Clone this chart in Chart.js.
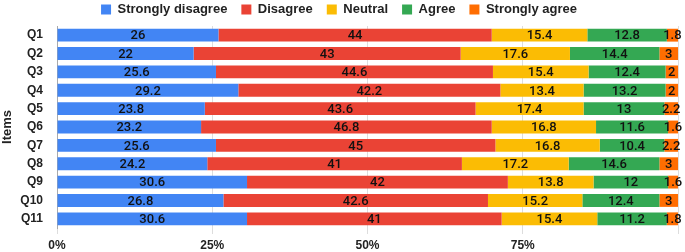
<!DOCTYPE html>
<html><head><meta charset="utf-8">
<script src="https://cdn.jsdelivr.net/npm/chart.js@4/dist/chart.umd.min.js"></script>
<style>html,body{margin:0;padding:0;background:#fff}#w{width:685px;height:252px}</style>
</head><body><div id="w"><canvas id="c"></canvas></div>
<script>
const categories = ["Q1","Q2","Q3","Q4","Q5","Q6","Q7","Q8","Q9","Q10","Q11"];
const stronglyDisagree = [26,22,25.6,29.2,23.8,23.2,25.6,24.2,30.6,26.8,30.6];
const disagree = [44,43,44.6,42.2,43.6,46.8,45,41,42,42.6,41];
const neutral = [15.4,17.6,15.4,13.4,17.4,16.8,16.8,17.2,13.8,15.2,15.4];
const agree = [12.8,14.4,12.4,13.2,13,11.6,10.4,14.6,12,12.4,11.2];
const stronglyAgree = [1.8,3,2,2,2.2,1.6,2.2,3,1.6,3,1.8];
const xTicks = [0,25,50,75,100];
const seriesNames = ["Strongly disagree","Disagree","Neutral","Agree","Strongly agree"];
const colors = ["#4285F4","#EA4335","#FBBC04","#34A853","#FF6D01"];
const seriesData = [stronglyDisagree, disagree, neutral, agree, stronglyAgree];

const labelPlugin = {
  id: 'barLabels',
  afterDatasetsDraw(chart) {
    const ctx = chart.ctx;
    ctx.save();
    ctx.font = '500 13px Roboto';
    ctx.fillStyle = '#111';
    ctx.textAlign = 'center';
    ctx.textBaseline = 'middle';
    chart.data.datasets.forEach((ds, i) => {
      const meta = chart.getDatasetMeta(i);
      meta.data.forEach((bar, j) => {
        const x = (bar.x + bar.base) / 2;
        ctx.fillText(String(ds.data[j]), x, bar.y + 1);
      });
    });
    ctx.restore();
  }
};

new Chart(document.getElementById('c'), {
  type: 'bar',
  data: {
    labels: categories,
    datasets: seriesNames.map((n, i) => ({
      label: n, data: seriesData[i], backgroundColor: colors[i],
      borderWidth: 0, barPercentage: 0.7, categoryPercentage: 1
    }))
  },
  options: {
    indexAxis: 'y',
    responsive: true, maintainAspectRatio: false, animation: false,
    layout: { padding: { left: 0, right: 7, top: -11, bottom: 0 } },
    plugins: {
      legend: {
        position: 'top',
        labels: { usePointStyle: true, pointStyle: 'rect', boxWidth: 10, boxHeight: 10, padding: 14,
          color: '#222', font: { family: 'Liberation Sans', size: 13, weight: 'bold' } }
      },
      tooltip: { enabled: false }
    },
    scales: {
      x: {
        stacked: true, min: 0, max: 100,
        afterBuildTicks(s) { s.ticks = xTicks.map(v => ({ value: v })); },
        afterFit(s) { s.height = 24; },
        ticks: { callback: v => v === 100 ? '' : v + '%', color: '#222', padding: 4,
          font: { family: 'Liberation Sans', size: 12, weight: 'bold' } },
        grid: { color: '#ddd', tickLength: 6, drawTicks: true },
        border: { display: false }
      },
      y: {
        stacked: true,
        afterFit(s) { s.width = 57; },
        title: { display: true, text: 'Items', color: '#222',
          font: { family: 'Liberation Sans', size: 13, weight: 'bold' }, padding: { top: 0, bottom: 4 } },
        ticks: { color: '#222', padding: 6, autoSkip: false,
          font: { family: 'Liberation Sans', size: 12, weight: 'bold' } },
        grid: { display: false },
        border: { display: true, color: '#aaa' }
      }
    }
  },
  plugins: [labelPlugin]
});
</script>
</body></html>
